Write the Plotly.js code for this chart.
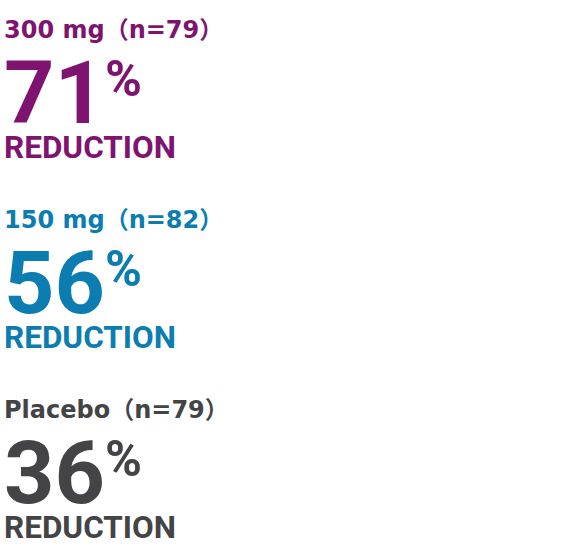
<!DOCTYPE html>
<html>
<head>
<meta charset="utf-8">
<script src="https://cdn.plot.ly/plotly-3.0.1.min.js"></script>
<style>
  html, body { margin: 0; padding: 0; background: #fff; }
  #chart { width: 580px; height: 553px; }
</style>
</head>
<body>
<div id="chart"></div>
<script>
// arm labels, % reduction and the caption under each number
const arms = ["300 mg（n=79）", "150 mg（n=82）", "Placebo（n=79）"];
const reductions = [71, 56, 36];
const caption = "REDUCTION";

const armColors = ["#7f1470", "#0b7db1", "#444447"];
const labelFont = "'DejaVu Sans', 'Noto Sans CJK JP', sans-serif";
const bigFont = "Roboto, 'Noto Sans CJK JP', sans-serif";

// one group = label line, big number with %, caption line
const annotations = [];
arms.forEach((arm, i) => {
  const color = armColors[i];
  annotations.push({
    x: 0, y: i, xref: "x", yref: "y",
    xanchor: "left", yanchor: "top", yshift: -14,
    showarrow: false,
    text: "<b>" + arm + "</b>",
    font: { family: labelFont, size: 24, color: color },
  });
  annotations.push({
    x: 0, y: i, xref: "x", yref: "y",
    xanchor: "left", yanchor: "top", yshift: -39,
    showarrow: false,
    text: "<b><span style='font-size:88px'>" + reductions[i] +
      "</span><sup><span style='font-size:50px'>%</span></sup></b>",
    font: { family: bigFont, size: 64, color: color },
  });
  annotations.push({
    x: 0, y: i, xref: "x", yref: "y",
    xanchor: "left", yanchor: "top", yshift: -127,
    showarrow: false,
    text: "<b>" + caption + "</b>",
    font: { family: bigFont, size: 31.5, color: color },
  });
});

const layout = {
  width: 580,
  height: 553,
  margin: { l: 0, r: 0, t: 0, b: 0 },
  paper_bgcolor: "#ffffff",
  plot_bgcolor: "#ffffff",
  showlegend: false,
  xaxis: { range: [-0.003, 1], visible: false, fixedrange: true },
  yaxis: { range: [553 / 190, 0], visible: false, fixedrange: true },
  annotations: annotations,
};

Plotly.newPlot("chart", [], layout, { displayModeBar: false, staticPlot: true });
</script>
</body>
</html>
